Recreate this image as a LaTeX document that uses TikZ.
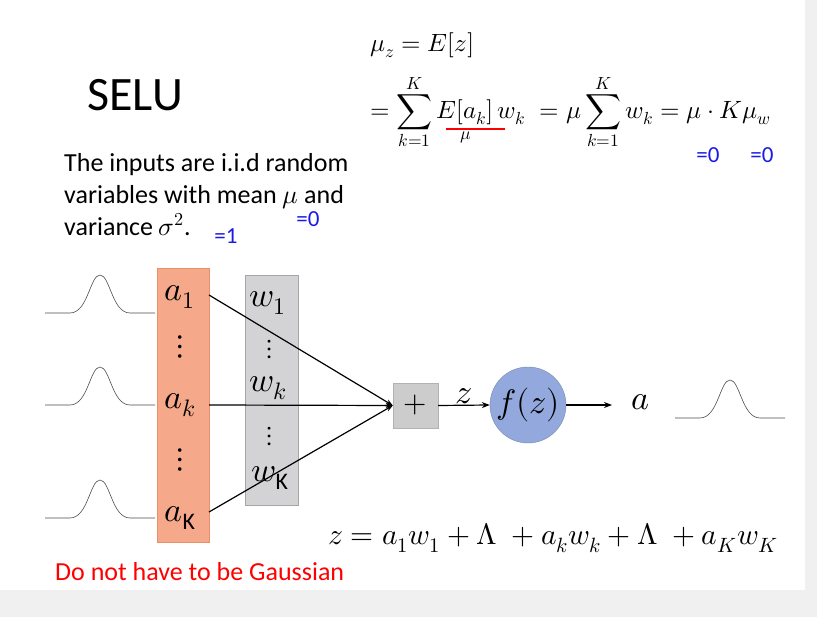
\documentclass[tikz,border=0pt]{standalone}
\usepackage{amsmath}
\usepackage{unicode-math}
\setmainfont{Carlito}
\setmathfont{Latin Modern Math}
\usetikzlibrary{arrows.meta}
\definecolor{org}{HTML}{F5A98A}
\definecolor{orgd}{HTML}{E8906A}
\definecolor{gry}{HTML}{D3D3D6}
\definecolor{blu}{HTML}{1A1AE6}
\definecolor{circ}{HTML}{93A9DE}
\begin{document}
\begin{tikzpicture}[x=1pt,y=-1pt,
  gauss/.style={draw=black!70,line width=0.6pt},
  conn/.style={line width=1.2pt},
  lab/.style={font=\fontsize{34}{34}\selectfont},
  blue0/.style={text=blu,font=\fontsize{23}{23}\selectfont}]
\useasboundingbox (0,0) rectangle (817,617);
\fill[gray!12] (0,0) rectangle (817,617);
\fill[white] (0,0) rectangle (805,590);
\node[anchor=west,font=\fontsize{48}{48}\selectfont] (selu) at (84,95) {SELU};
\node[anchor=north west,align=left,font=\fontsize{26}{32}\selectfont,inner sep=0] (txt) at (64,153) {The inputs are i.i.d random\\variables with mean $\mu$ and\\variance $\sigma^2$.};
\node[blue0] (e1) at (226,236) {=1};
\node[blue0] (e0) at (308,219) {=0};
% formulas
\node[anchor=west,font=\fontsize{25}{25}\selectfont,inner sep=0] (f1) at (370,45) {$\mu_z = E[z]$};
\node[anchor=west,font=\fontsize{25}{25}\selectfont,inner sep=0] (f2) at (370,112) {$\displaystyle=\sum_{k=1}^{K}\underset{\mu}{E[a_k]}\,w_k\;=\mu\sum_{k=1}^{K}w_k=\mu\cdot K\mu_w$};
\draw[red,line width=1.5pt] (446,129) -- (505,129);
\node[blue0] (z1) at (708,155) {=0};
\node[blue0] (z2) at (762,155) {=0};
% gaussians
\foreach \by/\nm in {313/g1,405/g2,518/g3}{
  \draw[gauss] (45,\by) -- (70,\by) .. controls (88,\by) and (90,\by-38) .. (100,\by-38) .. controls (110,\by-38) and (112,\by) .. (130,\by) -- (155,\by);
}
\draw[gauss] (675,418) -- (700,418) .. controls (718,418) and (720,380) .. (730,380) .. controls (740,380) and (742,418) .. (760,418) -- (785,418);
% boxes
\node[draw=orgd,fill=org,minimum width=52,minimum height=274,inner sep=0] (abox) at (183,405) {};
\node[draw=gray!70,fill=gry,minimum width=53,minimum height=230,inner sep=0] (wbox) at (271.5,390) {};
\node[lab] (a1) at (180,297) {$a_1$};
\node[lab] (ad1) at (180,347) {$\vdots$};
\node[lab] (ak) at (180,405) {$a_k$};
\node[lab] (ad2) at (180,460) {$\vdots$};
\node[lab] (aK) at (180,518) {$a_{\mathrm{K}}$};
\node[lab] (w1) at (268,303) {$w_1$};
\node[lab,font=\fontsize{28}{28}\selectfont] (wd1) at (270,350) {$\vdots$};
\node[lab] (wk) at (268,388) {$w_k$};
\node[lab,font=\fontsize{28}{28}\selectfont] (wd2) at (270,437) {$\vdots$};
\node[lab] (wK) at (270,478) {$w_{\mathrm{K}}$};
\node[draw=gray!60,fill=gray!40,minimum size=45,inner sep=0,font=\fontsize{30}{30}\selectfont] (plus) at (415.5,405.5) {$+$};
\coordinate (s1) at (209,295);
\coordinate (s2) at (209,405);
\coordinate (s3) at (209,512);
\foreach \s in {s1,s2,s3} \draw[conn,-{Stealth[length=7pt]}] (\s) -- (plus.west);
\node[circle,draw=circ!80!black,fill=circ,minimum size=76,inner sep=0,lab] (fz) at (528,405) {$f(z)$};
\draw[conn,-{Stealth[length=8pt]}] (plus.east) -- (fz.west) node[midway,above,lab,inner sep=1pt] {$z$};
\coordinate (ae) at (612,405);
\draw[conn,-{Stealth[length=8pt]}] (fz.east) -- (ae);
\node[lab] (a) at (640,402) {$a$};
\node[anchor=west,font=\fontsize{29.5}{30}\selectfont,inner sep=0] (zeq) at (328,538) {$z=a_1w_1+\Lambda\;+a_kw_k+\Lambda\;+a_Kw_K$};
\node[anchor=west,text=red,font=\fontsize{26}{26}\selectfont,inner sep=0] (red) at (55,572) {Do not have to be Gaussian};
\end{tikzpicture}
\end{document}
